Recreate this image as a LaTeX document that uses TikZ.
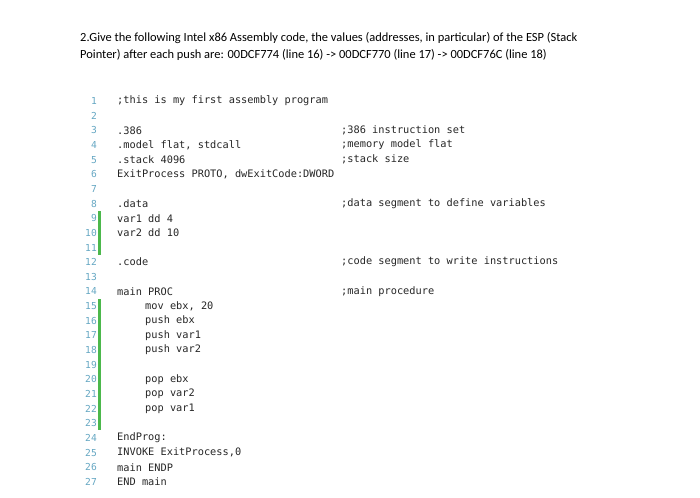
\documentclass[tikz,border=0pt]{standalone}
\usepackage{fontspec}
\setmainfont{Carlito}
\newfontfamily\codefont{DejaVu Sans Mono}
\begin{document}
\begin{tikzpicture}[x=1pt,y=-1pt,
  title/.style={anchor=west,font=\fontsize{12.45}{14}\selectfont,inner sep=0},
  num/.style={anchor=east,font=\codefont\fontsize{9.6}{11}\selectfont,text=cyan!50!gray,inner sep=0},
  code/.style={anchor=west,font=\codefont\fontsize{10.3}{12}\selectfont,text=black!85,inner sep=0},
  bar/.style={fill=green!60!black!70,draw=none}]
\useasboundingbox (0,0) rectangle (700,497);
\node[title] (t1) at (80,38) {2.Give the following Intel x86 Assembly code, the values (addresses, in particular) of the ESP (Stack};
\node[title] (t2) at (80,55) {Pointer) after each push are: 00DCF774 (line 16) -> 00DCF770 (line 17) -> 00DCF76C (line 18)};
\def\ly#1{101+(#1-1)*14.65}
\foreach \i in {1,...,27}{\node[num] (n\i) at (97,{\ly{\i}}) {\i};}
\fill[bar] (98,{\ly{9}-7}) rectangle (101,{\ly{11}+7});
\fill[bar] (98,{\ly{15}-7}) rectangle (101,{\ly{23}+7});
\node[code] (c1) at (117,{\ly{1}}) {;this is my first assembly program};
\node[code] (c3) at (117,{\ly{3}}) {.386};
\node[code] (c4) at (117,{\ly{4}}) {.model flat, stdcall};
\node[code] (c5) at (117,{\ly{5}}) {.stack 4096};
\node[code] (c6) at (117,{\ly{6}}) {ExitProcess PROTO, dwExitCode:DWORD};
\node[code] (c8) at (117,{\ly{8}}) {.data};
\node[code] (c9) at (117,{\ly{9}}) {var1 dd 4};
\node[code] (c10) at (117,{\ly{10}}) {var2 dd 10};
\node[code] (c12) at (117,{\ly{12}}) {.code};
\node[code] (c14) at (117,{\ly{14}}) {main PROC};
\node[code] (c15) at (145,{\ly{15}}) {mov ebx, 20};
\node[code] (c16) at (145,{\ly{16}}) {push ebx};
\node[code] (c17) at (145,{\ly{17}}) {push var1};
\node[code] (c18) at (145,{\ly{18}}) {push var2};
\node[code] (c20) at (145,{\ly{20}}) {pop ebx};
\node[code] (c21) at (145,{\ly{21}}) {pop var2};
\node[code] (c22) at (145,{\ly{22}}) {pop var1};
\node[code] (c24) at (117,{\ly{24}}) {EndProg:};
\node[code] (c25) at (117,{\ly{25}}) {INVOKE ExitProcess,0};
\node[code] (c26) at (117,{\ly{26}}) {main ENDP};
\node[code] (c27) at (117,{\ly{27}}) {END main};
\node[code] (k3) at (341,{\ly{3}}) {;386 instruction set};
\node[code] (k4) at (341,{\ly{4}}) {;memory model flat};
\node[code] (k5) at (341,{\ly{5}}) {;stack size};
\node[code] (k8) at (341,{\ly{8}}) {;data segment to define variables};
\node[code] (k12) at (341,{\ly{12}}) {;code segment to write instructions};
\node[code] (k14) at (341,{\ly{14}}) {;main procedure};
\end{tikzpicture}
\end{document}
